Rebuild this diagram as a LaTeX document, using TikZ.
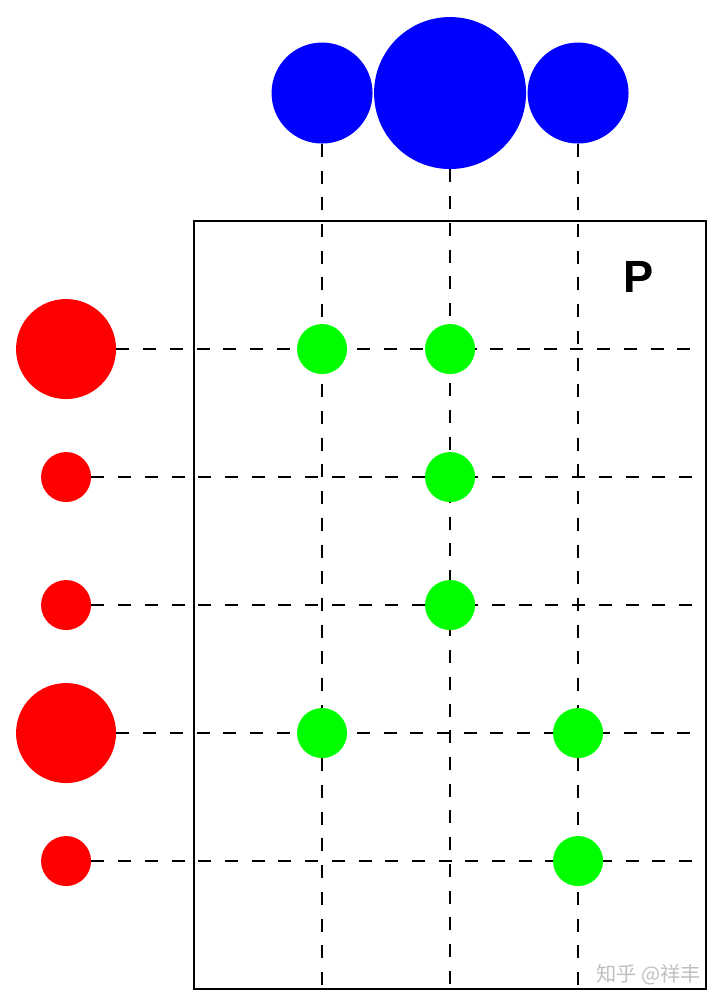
\documentclass[tikz,border=0pt]{standalone}
\usepackage{fontspec}
\setmainfont{Liberation Sans}
\newfontfamily\cjk{Noto Sans CJK SC}
\tikzset{
  dot/.style={circle,inner sep=0pt,draw=none},
  guide/.style={black,line width=1.15pt,dash pattern=on 7.4pt off 7.8pt}
}
\begin{document}
\begin{tikzpicture}[x=2.56cm,y=2.56cm]
 \useasboundingbox (-1.516,-0.148) rectangle (4.156,7.727);
 \draw [line width=1.15pt](0,0) rectangle (4,6);
 % blue column circles
 \node[dot,fill=blue,minimum size=2.02cm] (b1) at (1,7) {};
 \node[dot,fill=blue,minimum size=3.04cm] (b2) at (2,7) {};
 \node[dot,fill=blue,minimum size=2.02cm] (b3) at (3,7) {};
 % red row circles
 \node[dot,fill=red,minimum size=2cm] (r1) at (-1,5) {};
 \node[dot,fill=red,minimum size=1cm] (r2) at (-1,4) {};
 \node[dot,fill=red,minimum size=1cm] (r3) at (-1,3) {};
 \node[dot,fill=red,minimum size=2cm] (r4) at (-1,2) {};
 \node[dot,fill=red,minimum size=1cm] (r5) at (-1,1) {};
 % guide ends
 \coordinate (c1) at (1,0);
 \coordinate (c2) at (2,0);
 \coordinate (c3) at (3,0);
 \coordinate (e1) at (3.95,5);
 \coordinate (e2) at (3.95,4);
 \coordinate (e3) at (3.95,3);
 \coordinate (e4) at (3.95,2);
 \coordinate (e5) at (3.95,1);
 \draw[guide](b1.south)--(c1);
 \draw[guide](b2.south)--(c2);
 \draw[guide](b3.south)--(c3);
 \draw[guide](r1.east)--(e1);
 \draw[guide](r2.east)--(e2);
 \draw[guide](r3.east)--(e3);
 \draw[guide](r4.east)--(e4);
 \draw[guide](r5.east)--(e5);
 % green entries
 \node[dot,fill=green,minimum size=1cm] (g15) at (1,5) {};
 \node[dot,fill=green,minimum size=1cm] (g25) at (2,5) {};
 \node[dot,fill=green,minimum size=1cm] (g24) at (2,4) {};
 \node[dot,fill=green,minimum size=1cm] (g23) at (2,3) {};
 \node[dot,fill=green,minimum size=1cm] (g12) at (1,2) {};
 \node[dot,fill=green,minimum size=1cm] (g32) at (3,2) {};
 \node[dot,fill=green,minimum size=1cm] (g31) at (3,1) {};
 \node[font=\fontsize{25.7}{30}\selectfont\bfseries] (P) at (3.47,5.56) {P};
 \node[text=black!25,font=\cjk\fontsize{11.5}{13}\selectfont] (mark) at (3.55,0.11) {知乎 @祥丰};
\end{tikzpicture}
\end{document}
